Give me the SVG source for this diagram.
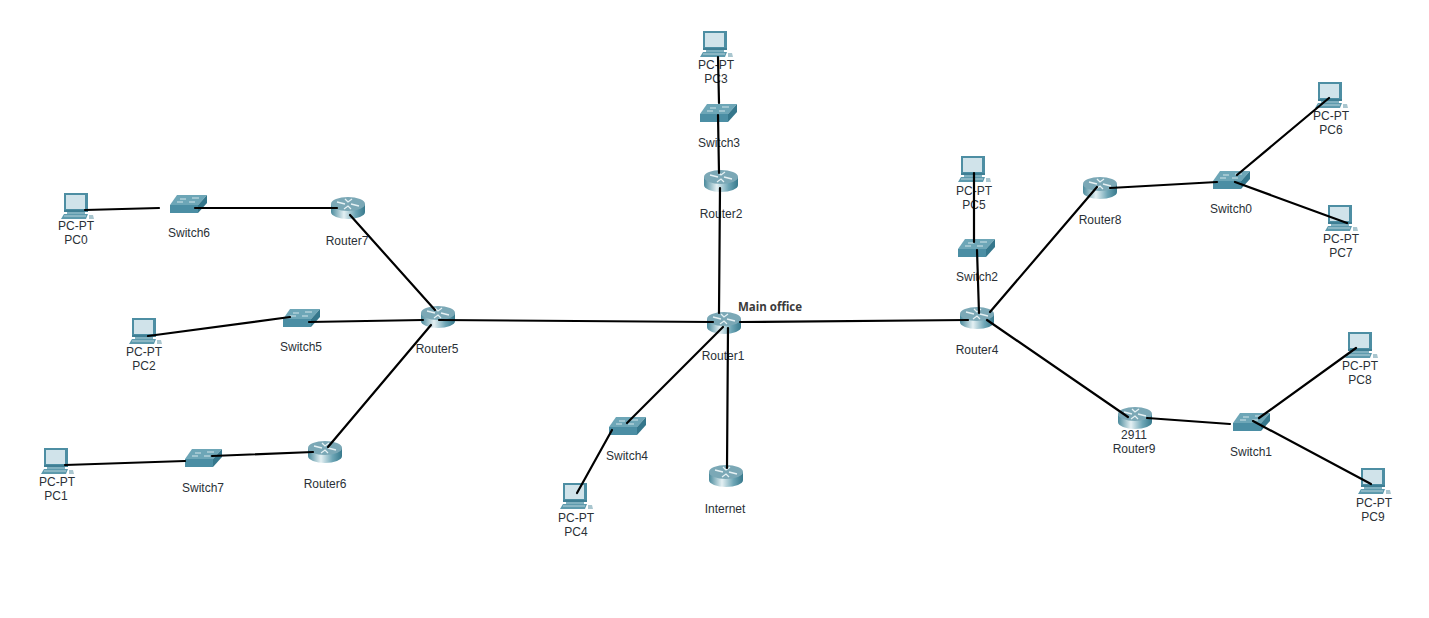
<svg xmlns="http://www.w3.org/2000/svg" width="1429" height="618" viewBox="0 0 1429 618">
<style>
text{font-family:"Liberation Sans",Arial,sans-serif;font-size:12px;fill:#2a3036;text-anchor:middle}
.b{font-family:"Open Sans","Liberation Sans",sans-serif;font-weight:700;font-size:11.500px;fill:#3a3a3a}
#links line{stroke:#000;stroke-width:2.200;stroke-linecap:round}
</style>
<defs>
<linearGradient id="rg" x1="0" x2="1" y1="0" y2="0"><stop offset="0" stop-color="#4a8a9c"/><stop offset=".38" stop-color="#e4f0f3"/><stop offset=".72" stop-color="#6ea6b6"/><stop offset="1" stop-color="#37798c"/></linearGradient>
<symbol id="router" overflow="visible">
<path d="M-17-4V4A17 7 0 0 0 17 4V-4Z" fill="url(#rg)"/>
<ellipse cy="-4" rx="17" ry="7" fill="#7ba8b6"/>
<path d="M-11-6-3-4M11-2 3-4M-3-9 0-6 4-9M-4 1 0-2 3 1" stroke="#e6f1f4" stroke-width="1.300" fill="none"/>
</symbol>
<symbol id="switch" overflow="visible">
<path d="M-11-9H19L10 1H-18Z" fill="#6da6b7"/>
<path d="M-18 1H10V9H-18Z" fill="#4b8ea4"/>
<path d="M10 1 19-9V-1L10 9Z" fill="#35778c"/>
<path d="M-8-5H-2M4-6H11M-11-2H-5M1-2H7" stroke="#d2e5ea" fill="none"/>
</symbol>
<symbol id="pc" overflow="visible">
<rect x="3" y="0" width="24" height="19" fill="#4d8ea3"/>
<rect x="5" y="2" width="19" height="14" fill="#d0e3ea"/>
<rect x="3" y="17" width="24" height="2" fill="#3f7f94"/>
<rect x="6" y="19" width="18" height="2" fill="#7fb0bf"/>
<path d="M3 21H27L25 26H0Z" fill="#5d9aad"/>
<path d="M3 23H25" stroke="#b9d3db"/>
<path d="M28 22h4l1 4h-5Z" fill="#a9c6cf"/>
</symbol>
</defs>
<rect width="1429" height="618" fill="#fff"/>
<g id="nodes">
<g id="PC0"><use href="#pc" x="61" y="193"/><text x="76" y="230">PC-PT</text><text x="76" y="244">PC0</text></g>
<g id="PC1"><use href="#pc" x="41" y="448"/><text x="57" y="486">PC-PT</text><text x="56" y="500">PC1</text></g>
<g id="PC2"><use href="#pc" x="129" y="318"/><text x="144" y="356">PC-PT</text><text x="144" y="370">PC2</text></g>
<g id="PC3"><use href="#pc" x="700" y="31"/><text x="716" y="69">PC-PT</text><text x="716" y="83">PC3</text></g>
<g id="PC4"><use href="#pc" x="560" y="483"/><text x="576" y="522">PC-PT</text><text x="576" y="536">PC4</text></g>
<g id="PC5"><use href="#pc" x="958" y="156"/><text x="974" y="195">PC-PT</text><text x="974" y="209">PC5</text></g>
<g id="PC6"><use href="#pc" x="1315" y="82"/><text x="1331" y="120">PC-PT</text><text x="1331" y="134">PC6</text></g>
<g id="PC7"><use href="#pc" x="1325" y="205"/><text x="1341" y="243">PC-PT</text><text x="1341" y="257">PC7</text></g>
<g id="PC8"><use href="#pc" x="1345" y="332"/><text x="1360" y="370">PC-PT</text><text x="1360" y="384">PC8</text></g>
<g id="PC9"><use href="#pc" x="1358" y="468"/><text x="1374" y="507">PC-PT</text><text x="1373" y="521">PC9</text></g>
<g id="Switch0"><use href="#switch" x="1231" y="180"/><text x="1231" y="213">Switch0</text></g>
<g id="Switch1"><use href="#switch" x="1251" y="422"/><text x="1251" y="456">Switch1</text></g>
<g id="Switch2"><use href="#switch" x="976" y="248"/><text x="977" y="281">Switch2</text></g>
<g id="Switch3"><use href="#switch" x="718" y="113"/><text x="719" y="147">Switch3</text></g>
<g id="Switch4"><use href="#switch" x="627" y="426"/><text x="627" y="460">Switch4</text></g>
<g id="Switch5"><use href="#switch" x="301" y="318"/><text x="301" y="351">Switch5</text></g>
<g id="Switch6"><use href="#switch" x="188" y="204"/><text x="189" y="237">Switch6</text></g>
<g id="Switch7"><use href="#switch" x="203" y="458"/><text x="203" y="492">Switch7</text></g>
<g id="Router1"><use href="#router" x="724" y="323"/><text x="723" y="360">Router1</text></g>
<g id="Router2"><use href="#router" x="721" y="181"/><text x="721" y="218">Router2</text></g>
<g id="Router4"><use href="#router" x="977" y="318"/><text x="977" y="354">Router4</text></g>
<g id="Router5"><use href="#router" x="438" y="317"/><text x="437" y="353">Router5</text></g>
<g id="Router6"><use href="#router" x="325" y="452"/><text x="325" y="488">Router6</text></g>
<g id="Router7"><use href="#router" x="348" y="208"/><text x="347" y="245">Router7</text></g>
<g id="Router8"><use href="#router" x="1100" y="188"/><text x="1100" y="224">Router8</text></g>
<g id="Router9"><use href="#router" x="1135" y="418"/><text x="1134" y="439">2911</text><text x="1134" y="453">Router9</text></g>
<g id="Internet"><use href="#router" x="726" y="476"/><text x="725" y="513">Internet</text></g>
<text class="b" x="770" y="311">Main office</text>
</g>
<g id="links">
<line x1="85" y1="210" x2="159" y2="208"/>
<line x1="195" y1="208" x2="337" y2="208"/>
<line x1="350" y1="215" x2="435" y2="310"/>
<line x1="148" y1="336" x2="290" y2="317"/>
<line x1="309" y1="322" x2="423" y2="320"/>
<line x1="439" y1="320" x2="713" y2="322"/>
<line x1="431" y1="325" x2="328" y2="447"/>
<line x1="65" y1="465" x2="185" y2="461"/>
<line x1="212" y1="456" x2="313" y2="452"/>
<line x1="740" y1="322" x2="968" y2="320"/>
<line x1="720" y1="188" x2="719" y2="313"/>
<line x1="718" y1="115" x2="719" y2="173"/>
<line x1="718" y1="57" x2="719" y2="103"/>
<line x1="723" y1="327" x2="627" y2="423"/>
<line x1="612" y1="430" x2="577" y2="493"/>
<line x1="728" y1="328" x2="727" y2="468"/>
<line x1="974" y1="173" x2="974" y2="242"/>
<line x1="977" y1="250" x2="979" y2="313"/>
<line x1="990" y1="312" x2="1097" y2="187"/>
<line x1="1110" y1="188" x2="1217" y2="182"/>
<line x1="1237" y1="175" x2="1329" y2="98"/>
<line x1="1235" y1="182" x2="1347" y2="223"/>
<line x1="987" y1="320" x2="1128" y2="417"/>
<line x1="1147" y1="418" x2="1230" y2="424"/>
<line x1="1259" y1="418" x2="1356" y2="348"/>
<line x1="1253" y1="421" x2="1371" y2="484"/>
</g>
</svg>
